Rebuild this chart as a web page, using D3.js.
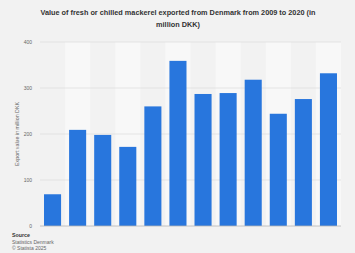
<!DOCTYPE html>
<html>
<head>
<meta charset="utf-8">
<script src="https://cdn.jsdelivr.net/npm/d3@7"></script>
<style>
  body { margin: 0; background: #f2f2f2; }
  text { font-family: "Liberation Sans", Arial, sans-serif; }
</style>
</head>
<body>
<div id="chart"></div>
<script>
// data (million DKK)
var years = ["2009", "2010", "2011", "2012", "2013", "2014", "2015", "2016", "2017", "2018", "2019", "2020"];
var values = [69, 209, 198, 172, 260, 359, 287, 289, 318, 244, 276, 332];
var yTicks = [0, 100, 200, 300, 400];

var svgWidth = 355;
var svgHeight = 253;
var margin = { top: 42, right: 14, bottom: 27, left: 40 };
var width = svgWidth - margin.left - margin.right;
var height = svgHeight - margin.top - margin.bottom;

var svg = d3.select("#chart")
    .append("svg")
    .attr("width", svgWidth)
    .attr("height", svgHeight);

svg.append("rect")
    .attr("width", svgWidth)
    .attr("height", svgHeight)
    .attr("fill", "#f2f2f2");

// title
var title = svg.append("text")
    .attr("x", 178)
    .attr("y", 15)
    .attr("text-anchor", "middle")
    .style("font-size", "7.3px")
    .style("font-weight", "bold")
    .attr("fill", "#333");
title.append("tspan").attr("x", 178).text("Value of fresh or chilled mackerel exported from Denmark from 2009 to 2020 (in");
title.append("tspan").attr("x", 178).attr("dy", 11.5).text("million DKK)");

var chartGroup = svg.append("g")
    .attr("transform", `translate(${margin.left}, ${margin.top})`);

var x = d3.scaleBand()
    .domain(years)
    .range([0, width])
    .paddingInner(0.32)
    .paddingOuter(0.16);

var y = d3.scaleLinear()
    .domain([0, 400])
    .range([height, 0]);

// alternating column bands
chartGroup.selectAll(".band")
    .data(years.filter((d, i) => i % 2 === 1))
    .enter()
    .append("rect")
    .attr("x", d => x(d) - x.step() * x.paddingInner() / 2)
    .attr("y", 0)
    .attr("width", x.step())
    .attr("height", height)
    .attr("fill", "#f8f8f8");

// grid lines
chartGroup.selectAll(".grid")
    .data(yTicks.filter(d => d > 0))
    .enter()
    .append("line")
    .attr("x1", 0)
    .attr("x2", width)
    .attr("y1", d => y(d))
    .attr("y2", d => y(d))
    .attr("stroke", "#dcdcdc")
    .attr("stroke-width", 0.7);

// bars
chartGroup.selectAll(".bar")
    .data(values)
    .enter()
    .append("rect")
    .attr("x", (d, i) => x(years[i]))
    .attr("y", d => y(d))
    .attr("width", x.bandwidth())
    .attr("height", d => height - y(d))
    .attr("fill", "#2876dd");

// baseline
chartGroup.append("line")
    .attr("x1", 0)
    .attr("x2", width)
    .attr("y1", y(0))
    .attr("y2", y(0))
    .attr("stroke", "#b5b5b5")
    .attr("stroke-width", 0.8);

// y axis
var leftAxis = d3.axisLeft(y).tickValues(yTicks).tickSize(0).tickPadding(8);
var yAxis = chartGroup.append("g").call(leftAxis);
yAxis.select(".domain").remove();
yAxis.selectAll("text")
    .style("font-size", "5px")
    .attr("fill", "#666");

svg.append("text")
    .attr("transform", `translate(19, ${margin.top + height / 2}) rotate(-90)`)
    .attr("text-anchor", "middle")
    .style("font-size", "5.3px")
    .attr("fill", "#666")
    .text("Export value in million DKK");

// source
svg.append("text")
    .attr("x", 12).attr("y", 237)
    .style("font-size", "5.3px")
    .style("font-weight", "bold")
    .attr("fill", "#333")
    .text("Source");
svg.append("text")
    .attr("x", 12).attr("y", 243.5)
    .style("font-size", "5px")
    .attr("fill", "#666")
    .text("Statistics Denmark");
svg.append("text")
    .attr("x", 12).attr("y", 250)
    .style("font-size", "5px")
    .attr("fill", "#666")
    .text("© Statista 2025");
</script>
</body>
</html>
